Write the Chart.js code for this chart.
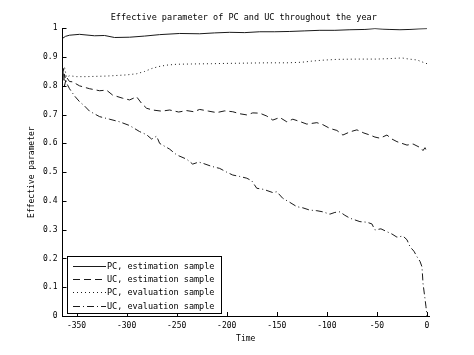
<!DOCTYPE html>
<html><head><meta charset="utf-8">
<script src="https://cdn.jsdelivr.net/npm/chart.js@4/dist/chart.umd.min.js"></script>
<style>html,body{margin:0;padding:0;background:#fff}canvas{display:block}</style>
</head><body>
<canvas id="c" width="474" height="355"></canvas>
<script>
const chartTitle = "Effective parameter of PC and UC throughout the year";
const xLabel = "Time";
const yLabel = "Effective parameter";
const seriesNames = ["PC, estimation sample", "UC, estimation sample", "PC, evaluation sample", "UC, evaluation sample"];
const xTicks = [-350, -300, -250, -200, -150, -100, -50, 0];
const yTicks = [0, 0.1, 0.2, 0.3, 0.4, 0.5, 0.6, 0.7, 0.8, 0.9, 1];
const yTickLabels = ["0", "0.1", "0.2", "0.3", "0.4", "0.5", "0.6", "0.7", "0.8", "0.9", "1"];

const pcEstDays = [-364,-361,-357,-347,-332,-322,-312,-297,-282,-267,-247,-227,-212,-197,-182,-167,-152,-137,-122,-107,-92,-77,-62,-52,-44,-37,-27,-17,-8,0];
const pcEstVals = [0.965,0.972,0.976,0.979,0.974,0.975,0.968,0.969,0.973,0.978,0.982,0.981,0.984,0.986,0.985,0.988,0.988,0.989,0.991,0.993,0.993,0.995,0.996,0.999,0.997,0.996,0.995,0.996,0.998,0.999];

const ucEstDays = [-364,-363,-362,-360,-357,-354,-347,-342,-337,-327,-320,-314,-304,-297,-290,-285,-280,-274,-265,-257,-248,-240,-233,-227,-218,-210,-202,-194,-187,-180,-174,-167,-160,-154,-147,-140,-134,-127,-120,-110,-104,-97,-90,-84,-77,-70,-63,-57,-52,-47,-40,-35,-30,-25,-20,-14,-10,-6,-4,-2,0];
const ucEstVals = [0.84,0.86,0.80,0.83,0.815,0.814,0.80,0.795,0.79,0.783,0.785,0.768,0.757,0.751,0.762,0.739,0.722,0.716,0.712,0.716,0.709,0.714,0.710,0.718,0.712,0.707,0.713,0.710,0.703,0.699,0.706,0.705,0.695,0.681,0.690,0.675,0.684,0.676,0.667,0.672,0.665,0.652,0.645,0.629,0.64,0.647,0.636,0.629,0.622,0.618,0.629,0.615,0.606,0.600,0.594,0.598,0.591,0.584,0.575,0.585,0.57];

const pcEvalDays = [-364,-362,-360,-357,-350,-340,-320,-300,-290,-282,-275,-268,-260,-250,-235,-215,-200,-180,-160,-140,-125,-115,-105,-90,-70,-50,-35,-25,-18,-10,-4,0];
const pcEvalVals = [0.84,0.865,0.83,0.835,0.832,0.832,0.834,0.838,0.842,0.85,0.86,0.867,0.872,0.875,0.876,0.877,0.878,0.879,0.880,0.880,0.882,0.886,0.889,0.892,0.893,0.893,0.895,0.897,0.893,0.89,0.882,0.877];

const ucEvalDays = [-364,-363,-362,-360,-357,-352,-347,-342,-337,-327,-317,-307,-297,-287,-280,-275,-270,-267,-257,-250,-240,-234,-228,-224,-215,-207,-200,-194,-187,-180,-175,-170,-163,-154,-150,-144,-137,-130,-124,-117,-110,-104,-97,-92,-87,-82,-77,-67,-60,-55,-52,-46,-40,-35,-30,-24,-20,-17,-13,-10,-7,-5,-4,-2,-1,0];
const ucEvalVals = [0.86,0.82,0.84,0.81,0.79,0.765,0.745,0.73,0.712,0.693,0.684,0.675,0.662,0.641,0.630,0.615,0.625,0.600,0.580,0.560,0.545,0.528,0.535,0.531,0.52,0.513,0.50,0.490,0.485,0.479,0.47,0.444,0.440,0.429,0.432,0.409,0.395,0.380,0.376,0.368,0.366,0.362,0.354,0.36,0.362,0.350,0.340,0.328,0.326,0.320,0.299,0.303,0.293,0.285,0.274,0.278,0.265,0.241,0.225,0.206,0.19,0.171,0.114,0.06,0.032,0.0];

const MONO = '"DejaVu Sans Mono", "Liberation Mono", monospace';
const pts = (d, v) => d.map((x, i) => ({x: x, y: v[i]}));

function ds(label, d, v, dash) {
  return {label, data: pts(d, v), borderColor: '#1a1a1a', borderWidth: 1, borderDash: dash,
          pointRadius: 0, fill: false, tension: 0};
}

const axesTitle = {
  id: 'axesTitle',
  afterDraw(chart) {
    const ctx = chart.ctx, a = chart.chartArea;
    ctx.save();
    ctx.font = '8.5px ' + MONO; ctx.fillStyle = '#000';
    ctx.textAlign = 'center'; ctx.textBaseline = 'middle';
    ctx.fillText(chartTitle, (a.left + a.right) / 2 - 2, 18);
    ctx.restore();
  }
};

const inwardTicks = {
  id: 'inwardTicks',
  afterDraw(chart) {
    const ctx = chart.ctx, xs = chart.scales.x, ys = chart.scales.y, a = chart.chartArea;
    ctx.save();
    ctx.strokeStyle = '#000'; ctx.lineWidth = 1; ctx.setLineDash([]);
    xs.ticks.forEach(t => {
      const px = Math.round(xs.getPixelForValue(t.value)) + 0.5;
      ctx.beginPath(); ctx.moveTo(px, a.bottom); ctx.lineTo(px, a.bottom - 4); ctx.stroke();
    });
    ys.ticks.forEach(t => {
      const py = Math.round(ys.getPixelForValue(t.value)) + 0.5;
      ctx.beginPath(); ctx.moveTo(a.left, py); ctx.lineTo(a.left + 4, py); ctx.stroke();
    });
    ctx.restore();
  }
};

const boxLegend = {
  id: 'boxLegend',
  afterDraw(chart) {
    const ctx = chart.ctx;
    const bx = 67.5, by = 256.5, bw = 154, bh = 57;
    ctx.save();
    ctx.fillStyle = '#fff'; ctx.fillRect(bx, by, bw, bh);
    ctx.strokeStyle = '#000'; ctx.lineWidth = 1; ctx.setLineDash([]);
    ctx.strokeRect(bx, by, bw, bh);
    ctx.font = '8.5px ' + MONO; ctx.textBaseline = 'middle'; ctx.textAlign = 'left'; ctx.fillStyle = '#000';
    chart.data.datasets.forEach((d, i) => {
      const y = Math.round(265.5 + i * 13.4) + 0.5;
      ctx.strokeStyle = d.borderColor; ctx.setLineDash(d.borderDash || []);
      ctx.beginPath(); ctx.moveTo(73, y); ctx.lineTo(106, y); ctx.stroke();
      ctx.setLineDash([]);
      ctx.fillText(d.label, 107, y);
    });
    ctx.restore();
  }
};

new Chart(document.getElementById('c'), {
  type: 'line',
  data: {
    datasets: [
      ds(seriesNames[0], pcEstDays, pcEstVals, []),
      ds(seriesNames[1], ucEstDays, ucEstVals, [7, 4]),
      ds(seriesNames[2], pcEvalDays, pcEvalVals, [1, 3]),
      ds(seriesNames[3], ucEvalDays, ucEvalVals, [7, 3, 1, 3])
    ]
  },
  options: {
    responsive: false, animation: false, devicePixelRatio: 1,
    layout: {padding: {left: 0, right: 45, top: 28.3, bottom: 0}},
    plugins: {
      legend: {display: false}, tooltip: {enabled: false}, title: {display: false}
    },
    scales: {
      x: {
        type: 'linear', min: -364, max: 2,
        grid: {display: false, drawTicks: false},
        border: {display: true, color: '#000', width: 1},
        afterBuildTicks: s => { s.ticks = xTicks.map(v => ({value: v})); },
        afterFit: s => { s.height = 39; },
        ticks: {color: '#000', font: {family: MONO, size: 8}, padding: 5, maxRotation: 0,
                callback: v => String(v)},
        title: {display: true, text: xLabel, color: '#000', font: {family: MONO, size: 8, lineHeight: 1.2},
                padding: {top: 0, bottom: 11}}
      },
      y: {
        type: 'linear', min: 0, max: 1,
        grid: {display: false, drawTicks: false},
        border: {display: true, color: '#000', width: 1},
        afterBuildTicks: s => { s.ticks = yTicks.map(v => ({value: v})); },
        afterFit: s => { s.width = 62.5; },
        ticks: {color: '#000', font: {family: MONO, size: 8}, padding: 5,
                callback: (v, i) => yTickLabels[i]},
        title: {display: true, text: yLabel, color: '#000', font: {family: MONO, size: 8, lineHeight: 1.2},
                padding: {top: 27, bottom: 0}}
      }
    }
  },
  plugins: [axesTitle, inwardTicks, boxLegend]
});
</script>
</body></html>
